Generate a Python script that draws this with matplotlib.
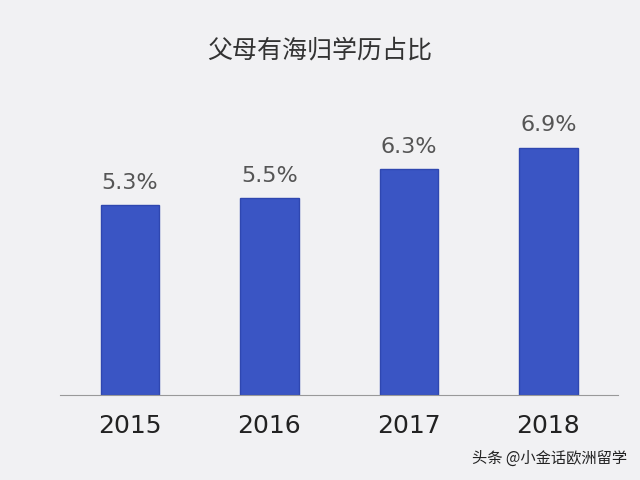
import matplotlib
matplotlib.use("Agg")
import matplotlib.pyplot as plt
import numpy as np

plt.rcParams['font.family'] = ['Noto Sans CJK SC', 'DejaVu Sans']

years = ["2015", "2016", "2017", "2018"]
values = [5.3, 5.5, 6.3, 6.9]
labels = ["5.3%", "5.5%", "6.3%", "6.9%"]

fig = plt.figure(figsize=(6.4, 4.8), dpi=100)
fig.patch.set_facecolor("#f1f1f3")
ax = fig.add_axes([0.094, 0.177, 0.872, 0.634])
ax.set_facecolor("#f1f1f3")
x = np.arange(len(years))
ax.bar(x, values, width=0.42, color="#3a55c4", edgecolor="#2f47b0")
for xi, v, l in zip(x, values, labels):
    ax.text(xi, v + 0.35, l, ha="center", va="bottom", fontsize=16, color="#555555", family="DejaVu Sans")
ax.set_xlim(-0.5, 3.5)
ax.set_ylim(0, 8.5)
ax.set_yticks([])
ax.set_xticks(x)
ax.set_xticklabels(years, fontsize=18, color="#222222", family="DejaVu Sans")
ax.tick_params(axis="x", length=0, pad=14)
for s in ["top", "right", "left"]:
    ax.spines[s].set_visible(False)
ax.spines["bottom"].set_color("#999999")
fig.text(0.5, 0.895, "父母有海归学历占比", ha="center", va="center", fontsize=18, color="#333333")
fig.text(0.98, 0.045, "头条 @小金话欧洲留学", ha="right", va="center", fontsize=11, color="#222222")
fig.savefig("out.png", dpi=100, facecolor=fig.get_facecolor())
